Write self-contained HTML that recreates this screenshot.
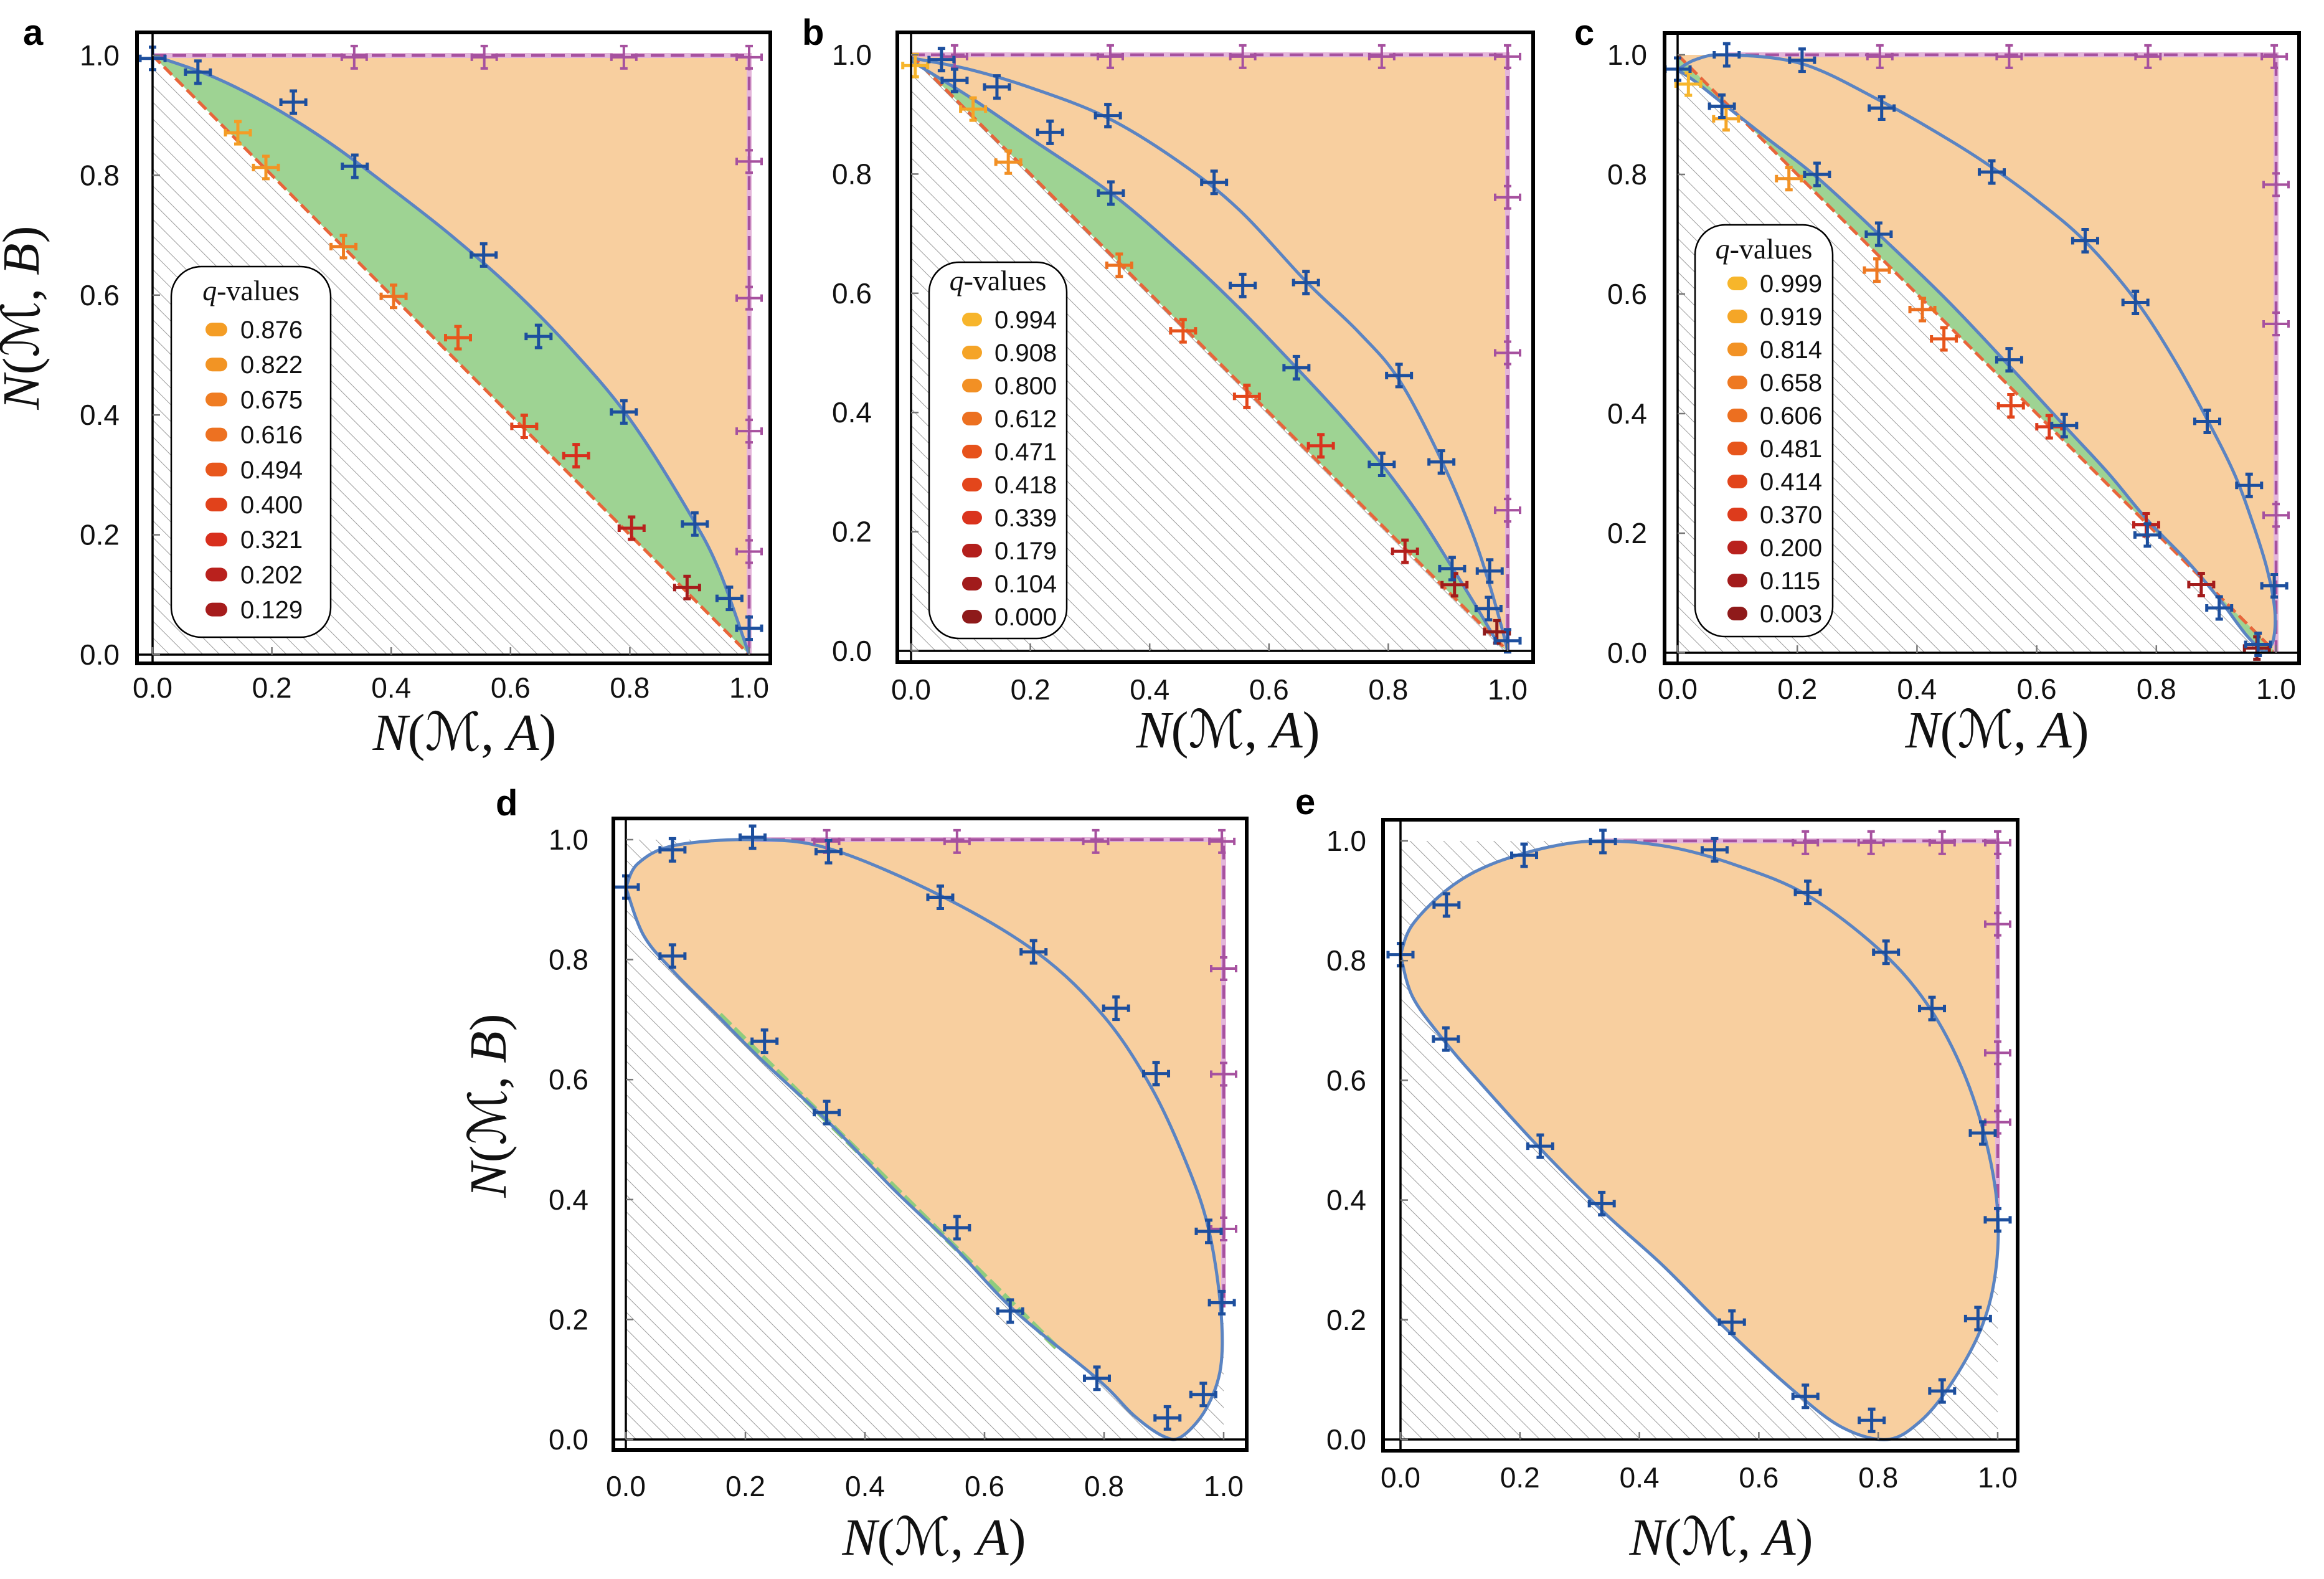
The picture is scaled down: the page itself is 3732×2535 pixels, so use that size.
<!DOCTYPE html>
<html><head><meta charset="utf-8"><style>
html,body{margin:0;padding:0;background:#fff;}
svg{display:block;}
.tick{font-family:"Liberation Sans",sans-serif;font-size:46px;fill:#111;}
.ttl{font-family:"Liberation Serif","DejaVu Serif",serif;font-size:84px;fill:#111;}
.lg{font-family:"Liberation Sans",sans-serif;font-size:40px;fill:#111;}
.lgt{font-family:"Liberation Serif","DejaVu Serif",serif;font-size:46px;fill:#111;}
.plab{font-family:"Liberation Sans",sans-serif;font-size:58px;font-weight:bold;fill:#000;}
</style></head><body>
<svg id="fig" xmlns="http://www.w3.org/2000/svg" width="3732" height="2535" viewBox="0 0 3732 2535">
<defs>
<pattern id="hatch" patternUnits="userSpaceOnUse" width="19" height="19" patternTransform="rotate(-45)">
<line x1="0" y1="0" x2="0" y2="19" stroke="#9a9a9a" stroke-width="2"/>
</pattern>
</defs>
</svg>
<script>
// ---------- data ----------
const ticks = [0, 0.2, 0.4, 0.6, 0.8, 1.0];
const tickLabels = ["0.0", "0.2", "0.4", "0.6", "0.8", "1.0"];

// panel a
const aCurve = [[0,1],[0.1,0.965],[0.2,0.915],[0.3,0.852],[0.4,0.778],[0.5,0.7],[0.6,0.613],[0.7,0.512],[0.8,0.393],[0.9,0.236],[0.95,0.14],[1,0]];
const aBlueX = [0,0.076,0.236,0.339,0.555,0.647,0.79,0.909,0.967,1.0];
const aBlueY = [0.995,0.972,0.922,0.815,0.667,0.531,0.405,0.218,0.094,0.044];
const aColX = [0.143,0.19,0.32,0.404,0.512,0.623,0.71,0.803,0.896];
const aColY = [0.871,0.813,0.681,0.598,0.529,0.381,0.332,0.211,0.112];
const aQ = [0.876,0.822,0.675,0.616,0.494,0.400,0.321,0.202,0.129];
const aPurTopX = [0.338,0.556,0.79,1.0];
const aPurRightY = [0.823,0.595,0.373,0.172];

// panel b
const bInner = [[0,0.99],[0.1,0.928],[0.2,0.86],[0.335,0.768],[0.45,0.67],[0.55,0.575],[0.646,0.475],[0.72,0.395],[0.789,0.313],[0.85,0.23],[0.907,0.14],[0.95,0.07],[0.985,0.01]];
const bOuter = [[0,0.995],[0.1,0.975],[0.2,0.945],[0.328,0.895],[0.45,0.82],[0.55,0.74],[0.662,0.62],[0.75,0.535],[0.818,0.455],[0.889,0.32],[0.94,0.2],[0.97,0.11],[0.99,0.04],[1,0]];
const bBlueX = [0.051,0.073,0.144,0.233,0.33,0.335,0.508,0.556,0.662,0.646,0.818,0.789,0.889,0.907,0.97,0.968,1.0];
const bBlueY = [0.992,0.957,0.946,0.87,0.898,0.768,0.786,0.613,0.618,0.475,0.462,0.313,0.317,0.138,0.134,0.071,0.017];
const bColX = [0.007,0.104,0.163,0.349,0.456,0.563,0.687,0.828,0.911,0.982];
const bColY = [0.982,0.909,0.82,0.647,0.537,0.427,0.344,0.167,0.111,0.032];
const bQ = [0.994,0.908,0.800,0.612,0.471,0.418,0.339,0.179,0.104,0.000];
const bPurTopX = [0.073,0.334,0.556,0.789,1.0];
const bPurRightY = [0.761,0.5,0.236];

// panel c
const cOuter = [[0,0.975],[0.03,0.992],[0.08,1.0],[0.208,0.985],[0.341,0.922],[0.45,0.86],[0.525,0.812],[0.6,0.757],[0.681,0.688],[0.765,0.59],[0.83,0.49],[0.885,0.39],[0.93,0.3],[0.96,0.22],[0.985,0.14],[0.998,0.07],[0.995,0.02],[0.98,0.0]];
const cInner = [[0.98,0.0],[0.95,0.03],[0.905,0.09],[0.85,0.155],[0.785,0.222],[0.72,0.3],[0.646,0.38],[0.554,0.48],[0.45,0.59],[0.336,0.7],[0.233,0.795],[0.15,0.86],[0.074,0.92],[0.03,0.955],[0,0.975]];
const cBlueX = [0,0.082,0.208,0.341,0.525,0.681,0.765,0.885,0.955,0.997,0.97,0.905,0.785,0.646,0.554,0.336,0.233,0.074];
const cBlueY = [0.976,1.0,0.991,0.911,0.804,0.689,0.586,0.387,0.28,0.112,0.014,0.075,0.197,0.38,0.49,0.7,0.8,0.914];
const cColX = [0.018,0.081,0.186,0.333,0.409,0.445,0.557,0.621,0.783,0.875,0.968];
const cColY = [0.951,0.893,0.793,0.64,0.574,0.525,0.413,0.378,0.214,0.114,0.008];
const cQ = [0.999,0.919,0.814,0.658,0.606,0.481,0.414,0.370,0.200,0.115,0.003];
const cPurTopX = [0.338,0.554,0.786,0.997];
const cPurRightY = [0.783,0.55,0.23];

// panel d
const dOuter = [[0,0.92],[0.02,0.96],[0.08,0.99],[0.21,1.0],[0.34,0.985],[0.53,0.905],[0.69,0.81],[0.8,0.705],[0.88,0.585],[0.94,0.455],[0.975,0.35],[0.995,0.22],[0.995,0.12],[0.97,0.05],[0.93,0.005]];
const dInner = [[0.93,0.005],[0.9,0.005],[0.85,0.04],[0.79,0.1],[0.65,0.215],[0.55,0.32],[0.45,0.415],[0.34,0.528],[0.23,0.63],[0.15,0.71],[0.08,0.78],[0.03,0.84],[0,0.92]];
const dBlueX = [0,0.078,0.212,0.339,0.526,0.682,0.82,0.887,0.975,0.997,0.966,0.906,0.788,0.643,0.554,0.336,0.232,0.078];
const dBlueY = [0.921,0.983,1.004,0.98,0.904,0.813,0.719,0.61,0.347,0.228,0.075,0.036,0.102,0.214,0.353,0.545,0.664,0.806];
const dPurTopX = [0.336,0.554,0.786,0.997];
const dPurRightY = [0.785,0.609,0.351];
const dGreenLine = [[0.157,0.708],[0.725,0.149]];

// panel e
const eOuter = [[0,0.81],[0.02,0.86],[0.08,0.92],[0.15,0.96],[0.25,0.99],[0.34,1.0],[0.45,0.99],[0.56,0.96],[0.68,0.91],[0.8,0.82],[0.88,0.73],[0.94,0.62],[0.98,0.5],[1.0,0.38],[0.995,0.27],[0.97,0.18],[0.92,0.09],[0.87,0.03],[0.815,0.0]];
const eInner = [[0.815,0.0],[0.74,0.02],[0.66,0.08],[0.55,0.18],[0.44,0.29],[0.34,0.38],[0.23,0.49],[0.13,0.6],[0.07,0.67],[0.02,0.74],[0,0.81]];
const eBlueX = [0,0.077,0.207,0.339,0.526,0.682,0.813,0.89,0.975,1.0,0.967,0.907,0.789,0.678,0.555,0.337,0.234,0.076];
const eBlueY = [0.81,0.893,0.976,0.999,0.985,0.914,0.814,0.72,0.512,0.367,0.202,0.081,0.032,0.072,0.196,0.394,0.49,0.669];
const ePurTopX = [0.678,0.788,0.907,1.0];
const ePurRightY = [0.861,0.646,0.53];

// ---------- helpers ----------
const NS = "http://www.w3.org/2000/svg";
const svg = document.getElementById("fig");
function mk(tag, attrs, parent) {
  const e = document.createElementNS(NS, tag);
  for (const k in attrs) e.setAttribute(k, attrs[k]);
  (parent || svg).appendChild(e);
  return e;
}
const stops = [[0,[142,26,26]],[0.15,[170,28,28]],[0.3,[214,42,30]],[0.45,[230,78,26]],[0.65,[238,120,34]],[0.85,[243,152,36]],[1,[247,182,43]]];
function qColor(q) {
  for (let i = 0; i < stops.length - 1; i++) {
    const [q0, c0] = stops[i], [q1, c1] = stops[i+1];
    if (q <= q1) {
      const t = (q - q0) / (q1 - q0);
      return "rgb(" + c0.map((v, j) => Math.round(v + (c1[j]-v)*t)).join(",") + ")";
    }
  }
  return "rgb(247,182,43)";
}
function smooth(pts) {
  let d = "M" + pts[0][0].toFixed(1) + " " + pts[0][1].toFixed(1);
  for (let i = 0; i < pts.length - 1; i++) {
    const p0 = pts[Math.max(0, i-1)], p1 = pts[i], p2 = pts[i+1], p3 = pts[Math.min(pts.length-1, i+2)];
    const c1 = [p1[0] + (p2[0]-p0[0])/6, p1[1] + (p2[1]-p0[1])/6];
    const c2 = [p2[0] - (p3[0]-p1[0])/6, p2[1] - (p3[1]-p1[1])/6];
    d += " C" + c1.map(v=>v.toFixed(1)).join(" ") + " " + c2.map(v=>v.toFixed(1)).join(" ") + " " + p2.map(v=>v.toFixed(1)).join(" ");
  }
  return d;
}

function panel(cfg) {
  const g = mk("g", {});
  
  
  const X = v => cfg.x0 + v * cfg.xs;
  const Y = v => cfg.y0 - v * cfg.ys;
  const P = pts => pts.map(p => [X(p[0]), Y(p[1])]);
  const h = mk("rect", {x: X(0), y: Y(1), width: X(1)-X(0), height: Y(0)-Y(1), fill: "url(#hatch)"}, g);
  
  
  return {g, X, Y, P};
}
function fillPath(g, d, color, name) {
  const e = mk("path", {d: d, fill: color, stroke: "none"}, g);
  
  
  return e;
}
function curve(g, pts, name) {
  const e = mk("path", {d: smooth(pts), fill: "none", stroke: "#5b84c2", "stroke-width": 5}, g);
  
  
}
function errCross(g, cx, cy, color, name, w) {
  const c = mk("g", {stroke: color, "stroke-width": w || 5, fill: "none"}, g);
  
  
  mk("path", {d: `M${cx-20} ${cy} H${cx+20} M${cx} ${cy-18} V${cy+18} M${cx-20} ${cy-6} V${cy+6} M${cx+20} ${cy-6} V${cy+6} M${cx-6} ${cy-18} H${cx+6} M${cx-6} ${cy+18} H${cx+6}`}, c);
}
function purpleBox(g, X, Y, xStart, yEnd) {
  const pk = mk("path", {d: `M${X(xStart)} ${Y(1)} H${X(1)} V${Y(yEnd)}`, fill: "none", stroke: "#e4b6da", "stroke-width": 8}, g);
  
  
  const pd = mk("path", {d: `M${X(xStart)} ${Y(1)} H${X(1)} V${Y(yEnd)}`, fill: "none", stroke: "#a6519f", "stroke-width": 4.5, "stroke-dasharray": "22 10"}, g);
  
  
}
function purplePts(g, X, Y, topX, rightY) {
  topX.forEach(v => errCross(g, X(v), Y(0.997), "#a6519f", "purple-point", 4));
  rightY.forEach(v => errCross(g, X(1), Y(v), "#a6519f", "purple-point", 4));
}
function blues(g, X, Y, xs, ys) {
  xs.forEach((v, i) => errCross(g, X(v), Y(ys[i]), "#1d4f9e", "blue-point"));
}
function colored(g, X, Y, xs, ys, qs) {
  xs.forEach((v, i) => errCross(g, X(v), Y(ys[i]), qColor(qs[i]), "q-point"));
}
function diag(g, X, Y) {
  const e = mk("line", {x1: X(0), y1: Y(1), x2: X(1), y2: Y(0), stroke: "#e8653a", "stroke-width": 5, "stroke-dasharray": "18 8"}, g);
  
  
}
function axes(g, cfg, X, Y) {
  const f = cfg.frame;
  const ax = mk("g", {}, g);
  
  
  mk("line", {x1: X(0), y1: f[1], x2: X(0), y2: f[3], stroke: "#000", "stroke-width": 3.5}, ax);
  mk("line", {x1: f[0], y1: Y(0), x2: f[2], y2: Y(0), stroke: "#000", "stroke-width": 3.5}, ax);
  ticks.forEach((t, i) => {
    mk("line", {x1: X(t), y1: Y(0), x2: X(t), y2: Y(0)-12, stroke: "#777", "stroke-width": 2.5}, ax);
    mk("line", {x1: X(0), y1: Y(t), x2: X(0)+12, y2: Y(t), stroke: "#777", "stroke-width": 2.5}, ax);
    const tx = mk("text", {x: X(t), y: cfg.xlabY, "text-anchor": "middle", class: "tick"}, ax);
    tx.textContent = tickLabels[i];
    
    
    const ty = mk("text", {x: cfg.ylabX, y: Y(t) + 16, "text-anchor": "end", class: "tick"}, ax);
    ty.textContent = tickLabels[i];
    
    
  });
  const fr = mk("rect", {x: f[0], y: f[1], width: f[2]-f[0], height: f[3]-f[1], fill: "none", stroke: "#000", "stroke-width": 6}, g);
  
  
  const xt = mk("text", {x: cfg.xtX, y: cfg.xtY, "text-anchor": "middle", class: "ttl"}, g);
  
  
  xt.innerHTML = '<tspan font-style="italic">N</tspan>(ℳ, <tspan font-style="italic">A</tspan>)';
  if (cfg.ytX) {
    const yt = mk("text", {x: 0, y: 0, "text-anchor": "middle", class: "ttl", transform: `translate(${cfg.ytX},${cfg.ytY}) rotate(-90)`}, g);
    
    
    yt.innerHTML = '<tspan font-style="italic">N</tspan>(ℳ, <tspan font-style="italic">B</tspan>)';
  }
  const pl = mk("text", {x: cfg.labX, y: cfg.labY, class: "plab"}, g);
  pl.textContent = cfg.id;
  
  
}
function legend(g, L, qs) {
  const lg = mk("g", {}, g);
  
  
  mk("rect", {x: L.box[0], y: L.box[1], width: L.box[2]-L.box[0], height: L.box[3]-L.box[1], rx: 48, fill: "#fff", stroke: "#000", "stroke-width": 2.5}, lg);
  const t = mk("text", {x: (L.box[0]+L.box[2])/2, y: L.tb, "text-anchor": "middle", class: "lgt"}, lg);
  t.innerHTML = '<tspan font-style="italic">q</tspan>-values';
  
  
  qs.forEach((q, i) => {
    const cy = L.first + i * L.sp;
    const en = mk("g", {}, lg);
    
    
    mk("rect", {x: L.sx, y: cy - 11, width: L.sw, height: 22, rx: 11, fill: qColor(q)}, en);
    const tx = mk("text", {x: L.tx, y: cy + 14, class: "lg"}, en);
    tx.textContent = q.toFixed(3);
  });
}

// ---------- panel a ----------
(function(){
  const cfg = {id:"a", x0:245, xs:958, y0:1051, ys:962, frame:[220,52,1237,1065], xlabY:1120, ylabX:192, xtX:746, xtY:1204, ytX:62, ytY:510, labX:37, labY:72};
  const {g, X, Y, P} = panel(cfg);
  const c = P(aCurve);
  fillPath(g, smooth(c) + ` L${X(1)} ${Y(1)} Z`, "#f8cf9f", "orange-region");
  fillPath(g, smooth(c) + " Z", "#9ed393", "green-region");
  diag(g, X, Y);
  purpleBox(g, X, Y, 0, 0);
  curve(g, c, "boundary-curve");
  purplePts(g, X, Y, aPurTopX, aPurRightY);
  colored(g, X, Y, aColX, aColY, aQ);
  blues(g, X, Y, aBlueX, aBlueY);
  axes(g, cfg, X, Y);
  legend(g, {box:[275,428,531,1023], tb:482, first:529, sp:56.2, sx:330, sw:35, tx:386}, aQ);
})();

// ---------- panel b ----------
(function(){
  const cfg = {id:"b", x0:1463, xs:958, y0:1045, ys:957, frame:[1441,52,2462,1063], xlabY:1123, ylabX:1400, xtX:1972, xtY:1200, labX:1288, labY:72};
  const {g, X, Y, P} = panel(cfg);
  const ci = P(bInner), co = P(bOuter);
  fillPath(g, smooth(ci) + ` L${X(1)} ${Y(0)} L${X(1)} ${Y(1)} L${X(0)} ${Y(1)} Z`, "#f8cf9f", "orange-region");
  fillPath(g, smooth(ci) + ` L${X(1)} ${Y(0)} L${X(0)} ${Y(1)} Z`, "#9ed393", "green-region");
  diag(g, X, Y);
  purpleBox(g, X, Y, 0, 0);
  curve(g, ci, "inner-curve");
  curve(g, co, "outer-curve");
  purplePts(g, X, Y, bPurTopX, bPurRightY);
  colored(g, X, Y, bColX, bColY, bQ);
  blues(g, X, Y, bBlueX, bBlueY);
  axes(g, cfg, X, Y);
  legend(g, {box:[1492,421,1713,1025], tb:466, first:513, sp:53, sx:1545, sw:32, tx:1597}, bQ);
})();

// ---------- panel c ----------
(function(){
  const cfg = {id:"c", x0:2694, xs:961, y0:1048, ys:960, frame:[2673,53,3692,1065], xlabY:1122, ylabX:2645, xtX:3207, xtY:1200, labX:2528, labY:72};
  const {g, X, Y, P} = panel(cfg);
  const co = P(cOuter), ci = P(cInner);
  const inner = ci.slice().reverse();
  fillPath(g, smooth(inner) + ` L${X(1)} ${Y(0)} L${X(1)} ${Y(1)} L${X(0)} ${Y(1)} Z`, "#f8cf9f", "orange-region");
  fillPath(g, smooth(inner) + ` L${X(1)} ${Y(0)} L${X(0)} ${Y(1)} Z`, "#9ed393", "green-region");
  diag(g, X, Y);
  purpleBox(g, X, Y, 0.08, 0.0);
  curve(g, co, "outer-curve");
  curve(g, ci, "inner-curve");
  purplePts(g, X, Y, cPurTopX, cPurRightY);
  colored(g, X, Y, cColX, cColY, cQ);
  blues(g, X, Y, cBlueX, cBlueY);
  axes(g, cfg, X, Y);
  legend(g, {box:[2722,361,2943,1022], tb:415, first:455, sp:53, sx:2774, sw:32, tx:2826}, cQ);
})();

// ---------- loop panels d, e ----------
function loopPanel(cfg, outer, inner, blueX, blueY, topX, rightY, greenLine) {
  const {g, X, Y, P} = panel(cfg);
  const loop = P(outer.concat(inner.slice(1)));
  let iTop = 0, iRight = 0;
  outer.forEach((p, i) => { if (p[1] > outer[iTop][1]) iTop = i; if (p[0] > outer[iRight][0]) iRight = i; });
  const arc = P(outer.slice(iTop, iRight + 1));
  fillPath(g, smooth(arc) + ` L${X(1)} ${Y(outer[iRight][1])} L${X(1)} ${Y(1)} Z`, "#f8cf9f", "orange-region-outside");
  fillPath(g, smooth(loop) + " Z", "#f8cf9f", "orange-region");
  if (greenLine) {
    const gl = mk("line", {x1: X(greenLine[0][0]), y1: Y(greenLine[0][1]), x2: X(greenLine[1][0]), y2: Y(greenLine[1][1]), stroke: "#8fcc7e", "stroke-width": 9, "stroke-dasharray": "24 8"}, g);
    
    
  }
  purpleBox(g, X, Y, outer[iTop][0], outer[iRight][1]);
  curve(g, loop, "loop-curve");
  purplePts(g, X, Y, topX, rightY);
  blues(g, X, Y, blueX, blueY);
  axes(g, cfg, X, Y);
}
loopPanel({id:"d", x0:1005, xs:960, y0:2311, ys:963, frame:[985,1314,2002,2328], xlabY:2402, ylabX:945, xtX:1500, xtY:2496, ytX:812, ytY:1775, labX:796, labY:1309},
  dOuter, dInner, dBlueX, dBlueY, dPurTopX, dPurRightY, dGreenLine);
loopPanel({id:"e", x0:2249, xs:959, y0:2311, ys:961, frame:[2221,1316,3240,2329], xlabY:2388, ylabX:2194, xtX:2764, xtY:2496, labX:2080, labY:1307},
  eOuter, eInner, eBlueX, eBlueY, ePurTopX, ePurRightY, null);
</script>
</body></html>
